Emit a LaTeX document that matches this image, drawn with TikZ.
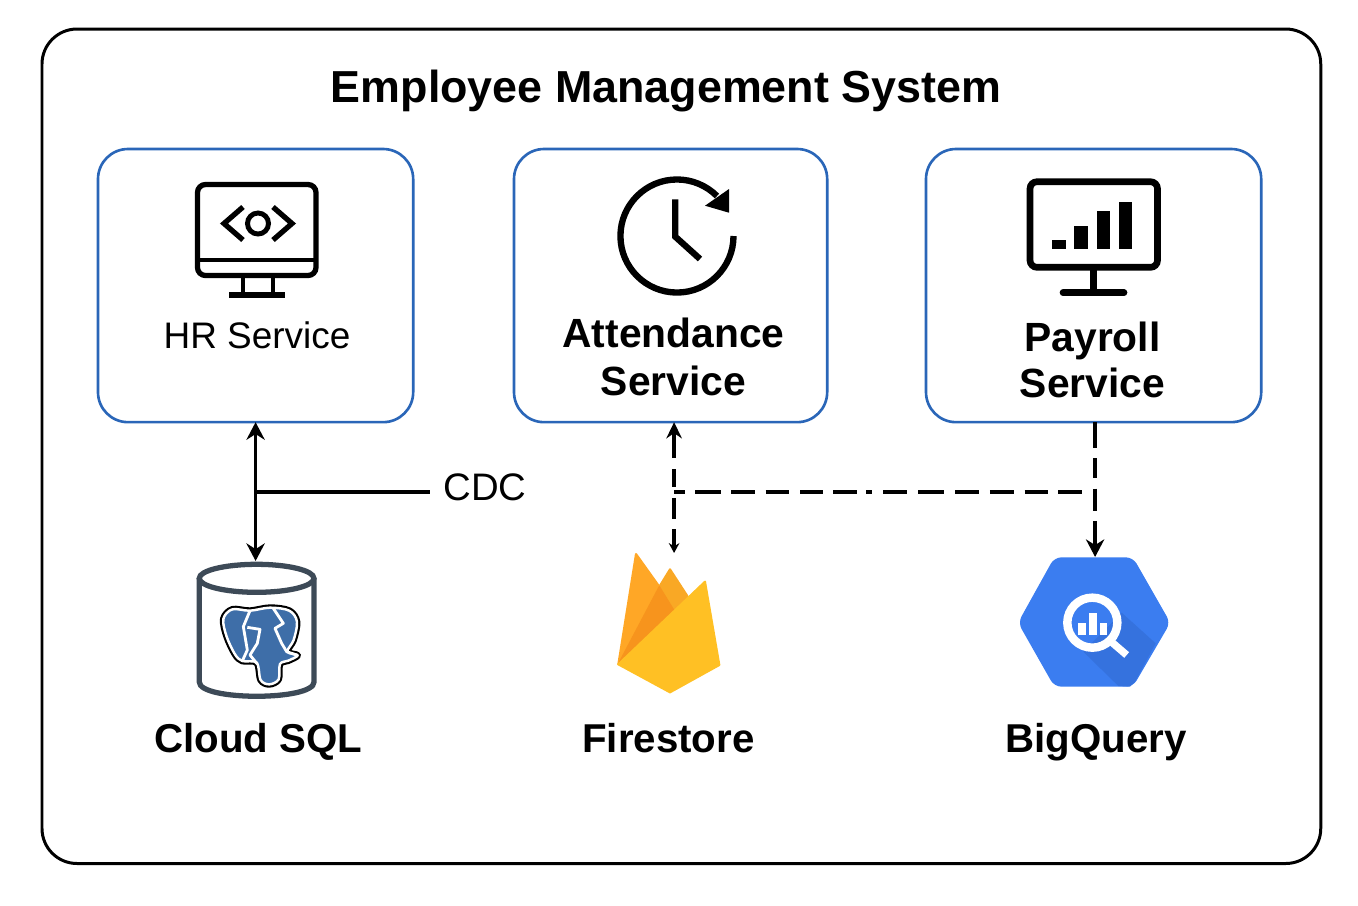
\documentclass[tikz,border=0pt]{standalone}
\usepackage{fontspec}
\setmainfont{Liberation Sans}
\usetikzlibrary{calc,arrows.meta}
\definecolor{boxblue}{HTML}{2A66B8}
\definecolor{sqlgrey}{HTML}{3D4A57}
\definecolor{pgblue}{HTML}{3E6EA8}
\definecolor{fireleft}{HTML}{FFA726}
\definecolor{fireback}{HTML}{F9A825}
\definecolor{firemid}{HTML}{F7941D}
\definecolor{firemain}{HTML}{FFC024}
\definecolor{bqblue}{HTML}{3B7DF0}
\definecolor{bqshade}{HTML}{3572DE}
\tikzstyle{cadre} = [rectangle, draw=black, line width=0.85pt, outer sep=0pt, rounded corners=0.35cm, minimum width=12.78cm, minimum height=8.34cm, anchor=north west]
\tikzstyle{servicebox} = [rectangle, draw=boxblue, line width=0.75pt, outer sep=0pt, rounded corners=0.3cm, minimum height=2.73cm, anchor=north west]
\tikzstyle{iconarea} = [rectangle, inner sep=0pt, outer sep=0pt]
\tikzstyle{titre} = [font=\fontsize{12.75}{15}\selectfont\bfseries]
\tikzstyle{plain} = [font=\fontsize{10.5}{13}\selectfont]
\tikzstyle{gras} = [font=\fontsize{11.6}{13.7}\selectfont\bfseries, align=center]
\tikzstyle{grasbas} = [font=\fontsize{11.45}{13.7}\selectfont\bfseries, anchor=base]
\tikzstyle{lien} = [black, line width=1pt, >={Stealth[length=5pt, width=5.2pt]}]
\newcommand{\elephantline}{plot[smooth cycle, tension=0.55] coordinates {(160,237) (187,208) (240,212) (300,203) (358,212) (381,245) (371,300) (352,335) (383,346) (355,362) (330,372) (326,418) (298,433) (272,420) (260,368) (217,363) (195,343) (170,290)}}

\begin{document}
\begin{tikzpicture}[x=0.01cm, y=-0.01cm]
    \useasboundingbox (0,0) rectangle (1358,905);

    \node (frame) [cadre] at (42,29) {};
    \node (title) [titre] at (666,91) {Employee Management System};

    \node (hr) [servicebox, minimum width=3.15cm] at (98,149) {};
    \node (att) [servicebox, minimum width=3.13cm] at (514,149) {};
    \node (pay) [servicebox, minimum width=3.35cm] at (926,149) {};

    \node (hrlabel) [plain] at (257,335) {HR Service};
    \node (attlabel) [gras] at (673.5,357) {Attendance\\Service};
    \node (paylabel) [gras, font=\fontsize{11.6}{13.1}\selectfont\bfseries] at (1092.5,360) {Payroll\\Service};

    \node (sql) [iconarea, minimum width=1.2cm, minimum height=1.38cm] at (257,630) {};
    \node (fire) [iconarea, minimum width=1.02cm, minimum height=1.4cm] at (669,623) {};
    \node (bq) [iconarea, minimum width=1.47cm, minimum height=1.31cm] at (1094,622.5) {};

    \node (sqllabel) [grasbas] at (258.5,752) {Cloud SQL};
    \node (firelabel) [grasbas] at (668.5,752) {Firestore};
    \node (bqlabel) [grasbas] at (1096,752) {BigQuery};
    \node (cdc) [plain, font=\fontsize{10.9}{13}\selectfont, anchor=west] at (431,487) {CDC};

    % HR icon
    \draw[line width=1.5pt, rounded corners=0.08cm] (197.5,184.5) rectangle (316,275.5);
    \draw[line width=1.4pt] (197.5,260) -- (316,260);
    \draw[line width=1.2pt] (243,277) -- (243,295) (273,277) -- (273,295);
    \draw[line width=1.5pt] (229,295) -- (285,295);
    \draw[line width=1.5pt] (243,207) -- (224,223.5) -- (243,240);
    \draw[line width=1.5pt] (273,207) -- (292,223.5) -- (273,240);
    \draw[line width=1.4pt] (258,223.5) circle [radius=0.105cm];

    % clock icon
    \draw[line width=1.8pt] (733.5,236) arc [start angle=0, end angle=-315, radius=0.565cm];
    \fill (729,189) -- (729,212.7) -- (705,205.7) -- cycle;
    \draw[line width=1.8pt] (675.3,199.3) -- (675.3,236.7) -- (700,259);

    % payroll icon
    \draw[line width=1.9pt, rounded corners=0.07cm] (1030,181.7) rectangle (1157.5,267.3);
    \draw[line width=1.9pt] (1093.3,268) -- (1093.3,292);
    \draw[line width=1.9pt, line cap=round] (1063,292.7) -- (1124,292.7);
    \fill (1052.3,240) rectangle (1065.7,249.3);
    \fill (1074.3,225.7) rectangle (1088.3,249.3);
    \fill (1097,211) rectangle (1110.3,249.3);
    \fill (1119,202.3) rectangle (1132.3,249.3);

    % cloud sql icon
    \draw[sqlgrey, line width=1.5pt] (199.3,578.3) -- (199.3,682) .. controls (199.3,701) and (314,701) .. (314,682) -- (314,578.3);
    \draw[sqlgrey, line width=1.5pt] (256.6,578.3) ellipse [x radius=0.573cm, y radius=0.14cm];
    \begin{scope}[shift={(170,540)}, scale=0.3333]
        \draw[black, line width=1.9pt, line join=round] \elephantline;
        \draw[white, line width=0.7pt, fill=pgblue, line join=round] \elephantline;
        \draw[white, line width=0.8pt, line join=round] (240,212) -- (220,260) -- (232,330) -- (217,363);
        \draw[white, line width=0.8pt, line join=round] (232,262) -- (270,268) -- (262,310) -- (240,345) -- (262,372);
        \draw[white, line width=0.8pt, line join=round] (310,205) -- (340,250) -- (315,265) -- (335,310) -- (350,335) -- (383,346);
    \end{scope}

    % firestore icon
    \begin{scope}[shift={(600,530)}, scale=0.3333]
        \filldraw[fireback, line width=0.6pt, line join=round] (178,170) -- (210,118) -- (262,198) -- (220,240) -- cycle;
        \filldraw[fireleft, line width=0.6pt, line join=round] (55,403) -- (108,72) -- (178,170) -- cycle;
        \filldraw[firemid, line width=0.4pt, line join=round] (55,403) -- (178,170) -- (222,242) -- cycle;
        \filldraw[firemain, line width=0.6pt, line join=round] (55,403) -- (315,155) -- (358,405) -- (210,487) -- cycle;
    \end{scope}

    % bigquery icon
    \begin{scope}[shift={(1005,540)}, scale=0.3333]
        \fill[bqblue, rounded corners=0.07cm] (148,52) -- (384,52) -- (496,248) -- (384,440) -- (148,440) -- (39,248) -- cycle;
        \fill[bqshade] (350,218) -- (452,310) -- (390,425) -- (375,440) -- (340,438) -- (235,335) -- cycle;
        \draw[white, line width=2.4pt] (262,248) circle [radius=0.75cm];
        \draw[white, line width=2.1pt] (322,308) -- (365,345);
        \fill[white] (220,250) rectangle (243,285);
        \fill[white] (252,220) rectangle (275,285);
        \fill[white] (285,250) rectangle (307,285);
    \end{scope}

    % connectors
    \coordinate (cdcjoin) at (257,492);
    \coordinate (cdcend) at (430,492);
    \coordinate (attdash) at ($(att.south)+(3.5,0)$);
    \coordinate (paydash) at ($(pay.south)+(1.5,0)$);
    \coordinate (crossend) at (1083,492);
    \coordinate (crossstart) at (attdash |- cdcjoin);

    \draw[lien, <->] (hr.south) -- (hr.south |- sql.north);
    \draw[lien] (cdcjoin) -- (cdcend);
    \draw[lien, {Stealth[length=4.6pt, width=4.4pt]}-{Stealth[length=2.8pt, width=3pt]}, dash pattern=on 7.4pt off 3.1pt on 5.1pt off 3.1pt on 6pt off 2.9pt on 10pt off 90pt] (attdash) -- (attdash |- fire.north);
    \draw[lien, dash pattern=on 3.1pt off 2.9pt on 7.4pt off 2.9pt on 6.8pt off 2.9pt on 6.8pt off 3.1pt on 6.5pt off 2.9pt on 6.8pt off 2.6pt on 1.7pt off 3.1pt on 6.8pt off 3.1pt on 7.4pt off 3.1pt on 6.8pt off 3.1pt on 6.8pt off 3.1pt on 6.5pt off 3.1pt on 6.8pt off 60pt] (crossstart) -- (crossend);
    \draw[lien, ->, dash pattern=on 7.4pt off 2.9pt on 5.7pt off 2.9pt on 6.3pt off 2.9pt on 60pt off 10pt] (paydash) -- (paydash |- bq.north);
\end{tikzpicture}
\end{document}
